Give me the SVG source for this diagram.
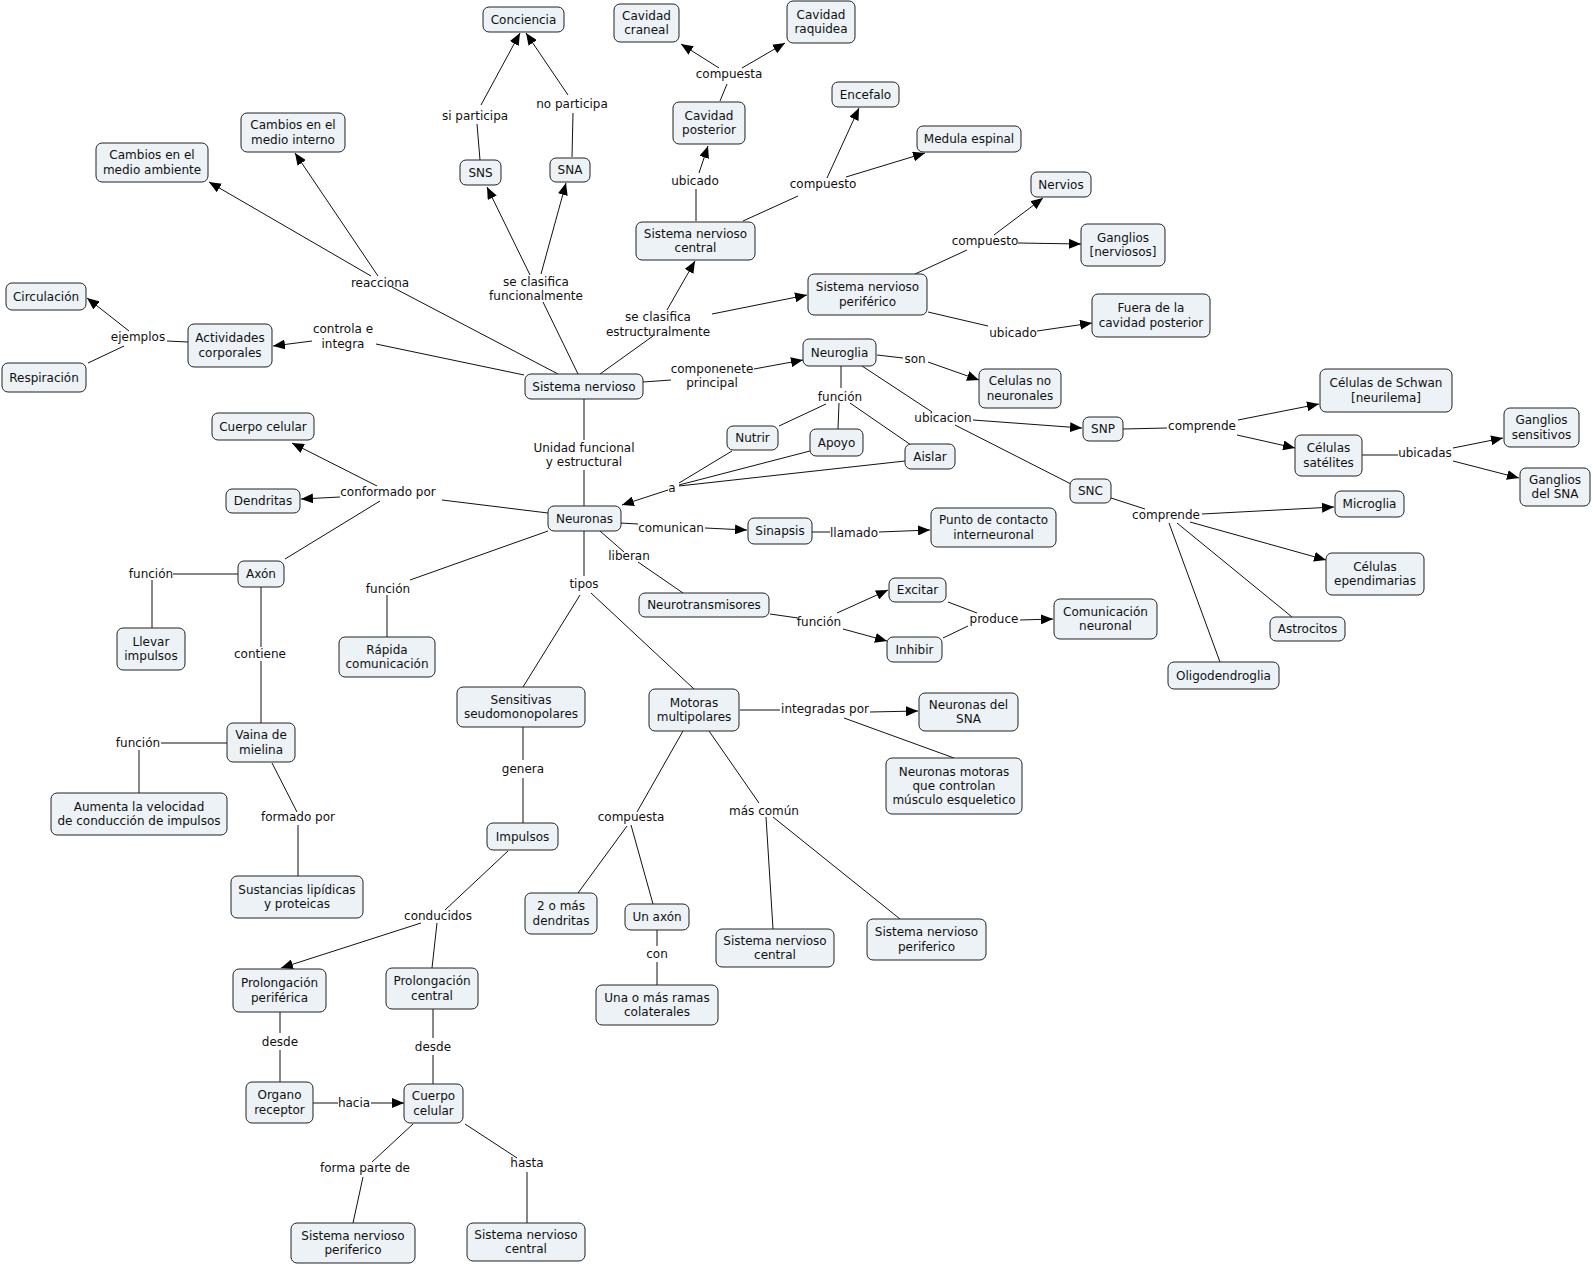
<svg xmlns="http://www.w3.org/2000/svg" width="1593" height="1266" viewBox="0 0 1593 1266">
<style>
text{font-family:"DejaVu Sans",Verdana,sans-serif;font-size:12px;fill:#111;text-anchor:middle}
.n rect{fill:#ecf2f5;stroke:#222;stroke-width:1}
.c line{stroke:#111;stroke-width:1;fill:none}
.c line.a{marker-end:url(#ah)}
</style>
<defs>
<marker id="ah" markerUnits="userSpaceOnUse" markerWidth="12" markerHeight="10" refX="12" refY="5" orient="auto"><path d="M0,0 L12,5 L0,10 z" fill="#000"/></marker>
</defs>
<rect width="1593" height="1266" fill="#fff"/>
<g id="connectors" class="c">
<line x1="480" y1="160" x2="477" y2="124"/>
<line class="a" x1="481" y1="105" x2="520" y2="33"/>
<line x1="572" y1="157" x2="573" y2="113"/>
<line class="a" x1="568" y1="95" x2="526" y2="33"/>
<line x1="720" y1="101" x2="727" y2="84"/>
<line class="a" x1="719" y1="68" x2="681" y2="44"/>
<line class="a" x1="742" y1="68" x2="785" y2="43"/>
<line x1="696" y1="221" x2="696" y2="189"/>
<line class="a" x1="699" y1="173" x2="708" y2="146"/>
<line x1="743" y1="221" x2="798" y2="196"/>
<line class="a" x1="827" y1="178" x2="859" y2="108"/>
<line class="a" x1="846" y1="177" x2="925" y2="153"/>
<line x1="915" y1="274" x2="967" y2="250"/>
<line class="a" x1="994" y1="235" x2="1043" y2="198"/>
<line class="a" x1="1018" y1="243" x2="1081" y2="244"/>
<line x1="928" y1="312" x2="988" y2="326"/>
<line class="a" x1="1037" y1="331" x2="1092" y2="323"/>
<line x1="578" y1="374" x2="543" y2="302"/>
<line class="a" x1="530" y1="275" x2="487" y2="187"/>
<line class="a" x1="541" y1="274" x2="566" y2="183"/>
<line x1="600" y1="374" x2="653" y2="336"/>
<line class="a" x1="667" y1="310" x2="695" y2="261"/>
<line class="a" x1="712" y1="314" x2="807" y2="295"/>
<line x1="643" y1="382" x2="671" y2="380"/>
<line class="a" x1="754" y1="369" x2="803" y2="360"/>
<line x1="558" y1="374" x2="392" y2="287"/>
<line class="a" x1="371" y1="276" x2="209" y2="182"/>
<line class="a" x1="378" y1="276" x2="295" y2="153"/>
<line x1="524" y1="375" x2="376" y2="344"/>
<line class="a" x1="312" y1="341" x2="273" y2="346"/>
<line x1="188" y1="342" x2="167" y2="341"/>
<line class="a" x1="129" y1="331" x2="87" y2="298"/>
<line x1="124" y1="346" x2="88" y2="363"/>
<line x1="584" y1="399" x2="584" y2="440"/>
<line x1="584" y1="470" x2="584" y2="506"/>
<line x1="877" y1="355" x2="903" y2="358"/>
<line class="a" x1="928" y1="362" x2="979" y2="380"/>
<line x1="841" y1="366" x2="841" y2="388"/>
<line x1="826" y1="404" x2="779" y2="426"/>
<line x1="839" y1="403" x2="838" y2="429"/>
<line x1="850" y1="403" x2="911" y2="445"/>
<line x1="862" y1="366" x2="932" y2="412"/>
<line class="a" x1="973" y1="420" x2="1082" y2="428"/>
<line x1="955" y1="425" x2="1071" y2="484"/>
<line x1="732" y1="451" x2="679" y2="483"/>
<line x1="810" y1="451" x2="679" y2="485"/>
<line x1="905" y1="461" x2="679" y2="486"/>
<line class="a" x1="668" y1="490" x2="622" y2="505"/>
<line x1="1123" y1="429" x2="1167" y2="428"/>
<line class="a" x1="1238" y1="420" x2="1319" y2="404"/>
<line class="a" x1="1237" y1="435" x2="1295" y2="448"/>
<line x1="1362" y1="455" x2="1398" y2="455"/>
<line class="a" x1="1453" y1="448" x2="1503" y2="438"/>
<line class="a" x1="1453" y1="461" x2="1519" y2="478"/>
<line x1="1111" y1="498" x2="1145" y2="509"/>
<line class="a" x1="1202" y1="514" x2="1334" y2="507"/>
<line class="a" x1="1190" y1="522" x2="1326" y2="560"/>
<line x1="1177" y1="523" x2="1292" y2="617"/>
<line x1="1169" y1="523" x2="1220" y2="662"/>
<line x1="620" y1="523" x2="638" y2="524"/>
<line class="a" x1="705" y1="528" x2="747" y2="530"/>
<line x1="812" y1="532" x2="830" y2="532"/>
<line class="a" x1="879" y1="532" x2="930" y2="530"/>
<line x1="600" y1="531" x2="624" y2="552"/>
<line x1="638" y1="562" x2="683" y2="593"/>
<line x1="442" y1="500" x2="548" y2="513"/>
<line class="a" x1="377" y1="486" x2="292" y2="443"/>
<line class="a" x1="340" y1="497" x2="301" y2="499"/>
<line x1="380" y1="501" x2="285" y2="559"/>
<line x1="238" y1="574" x2="173" y2="574"/>
<line x1="152" y1="580" x2="152" y2="628"/>
<line x1="261" y1="587" x2="261" y2="647"/>
<line x1="261" y1="661" x2="261" y2="723"/>
<line x1="227" y1="743" x2="161" y2="743"/>
<line x1="139" y1="750" x2="139" y2="793"/>
<line x1="272" y1="763" x2="297" y2="812"/>
<line x1="298" y1="825" x2="298" y2="876"/>
<line x1="548" y1="531" x2="410" y2="580"/>
<line x1="387" y1="595" x2="387" y2="637"/>
<line x1="584" y1="531" x2="584" y2="576"/>
<line x1="580" y1="595" x2="523" y2="687"/>
<line x1="591" y1="593" x2="694" y2="689"/>
<line x1="770" y1="614" x2="798" y2="618"/>
<line class="a" x1="837" y1="613" x2="888" y2="590"/>
<line class="a" x1="843" y1="629" x2="887" y2="641"/>
<line x1="948" y1="602" x2="977" y2="613"/>
<line x1="943" y1="638" x2="968" y2="626"/>
<line class="a" x1="1020" y1="620" x2="1053" y2="619"/>
<line x1="740" y1="710" x2="780" y2="710"/>
<line class="a" x1="870" y1="712" x2="918" y2="711"/>
<line x1="844" y1="718" x2="954" y2="758"/>
<line x1="523" y1="727" x2="523" y2="760"/>
<line x1="523" y1="778" x2="523" y2="823"/>
<line x1="683" y1="731" x2="637" y2="812"/>
<line x1="709" y1="731" x2="759" y2="803"/>
<line x1="627" y1="826" x2="578" y2="893"/>
<line x1="631" y1="825" x2="653" y2="904"/>
<line x1="657" y1="930" x2="657" y2="946"/>
<line x1="657" y1="962" x2="657" y2="985"/>
<line x1="766" y1="817" x2="773" y2="929"/>
<line x1="773" y1="817" x2="900" y2="919"/>
<line x1="508" y1="851" x2="445" y2="910"/>
<line class="a" x1="421" y1="923" x2="281" y2="968"/>
<line x1="437" y1="923" x2="432" y2="968"/>
<line x1="280" y1="1012" x2="280" y2="1033"/>
<line x1="280" y1="1050" x2="280" y2="1082"/>
<line x1="433" y1="1009" x2="433" y2="1038"/>
<line x1="433" y1="1055" x2="433" y2="1084"/>
<line x1="313" y1="1103" x2="338" y2="1103"/>
<line class="a" x1="371" y1="1103" x2="404" y2="1103"/>
<line x1="413" y1="1124" x2="372" y2="1162"/>
<line x1="363" y1="1177" x2="353" y2="1223"/>
<line x1="465" y1="1124" x2="517" y2="1158"/>
<line x1="527" y1="1172" x2="527" y2="1223"/>
</g>
<g id="labels">
<text x="475" y="120">si participa</text>
<text x="572" y="108">no participa</text>
<text x="729" y="78">compuesta</text>
<text x="695" y="185">ubicado</text>
<text x="823" y="188">compuesto</text>
<text x="380" y="287">reacciona</text>
<text x="536" y="286">se clasifica</text><text x="536" y="300">funcionalmente</text>
<text x="658" y="321">se clasifica</text><text x="658" y="336">estructuralmente</text>
<text x="985" y="245">compuesto</text>
<text x="1013" y="337">ubicado</text>
<text x="138" y="341">ejemplos</text>
<text x="343" y="333">controla e</text><text x="343" y="348">integra</text>
<text x="712" y="373">componenete</text><text x="712" y="387">principal</text>
<text x="915" y="363">son</text>
<text x="840" y="401">función</text>
<text x="943" y="422">ubicacion</text>
<text x="1202" y="430">comprende</text>
<text x="1425" y="457">ubicadas</text>
<text x="584" y="452">Unidad funcional</text><text x="584" y="466">y estructural</text>
<text x="672" y="492">a</text>
<text x="388" y="496">conformado por</text>
<text x="1166" y="519">comprende</text>
<text x="671" y="532">comunican</text>
<text x="854" y="537">llamado</text>
<text x="629" y="560">liberan</text>
<text x="151" y="578">función</text>
<text x="584" y="588">tipos</text>
<text x="388" y="593">función</text>
<text x="994" y="623">produce</text>
<text x="819" y="626">función</text>
<text x="260" y="658">contiene</text>
<text x="825" y="713">integradas por</text>
<text x="138" y="747">función</text>
<text x="523" y="773">genera</text>
<text x="764" y="815">más común</text>
<text x="298" y="821">formado por</text>
<text x="631" y="821">compuesta</text>
<text x="438" y="920">conducidos</text>
<text x="657" y="958">con</text>
<text x="280" y="1046">desde</text>
<text x="433" y="1051">desde</text>
<text x="354" y="1107">hacia</text>
<text x="365" y="1172">forma parte de</text>
<text x="527" y="1167">hasta</text>
</g>
<g id="n-conciencia" class="n"><rect x="483" y="7" width="81" height="25" rx="6"/><text x="523.5" y="23.5">Conciencia</text></g>
<g id="n-cav-craneal" class="n"><rect x="614" y="4" width="65" height="38" rx="6"/><text x="646.5" y="19.8">Cavidad</text><text x="646.5" y="34.2">craneal</text></g>
<g id="n-cav-raquidea" class="n"><rect x="787" y="1" width="68" height="42" rx="6"/><text x="821" y="18.8">Cavidad</text><text x="821" y="33.2">raquidea</text></g>
<g id="n-cav-posterior" class="n"><rect x="673" y="102" width="72" height="42" rx="6"/><text x="709" y="119.8">Cavidad</text><text x="709" y="134.2">posterior</text></g>
<g id="n-encefalo" class="n"><rect x="832" y="82" width="67" height="25" rx="6"/><text x="865.5" y="98.5">Encefalo</text></g>
<g id="n-medula" class="n"><rect x="917" y="126" width="104" height="26" rx="6"/><text x="969" y="143">Medula espinal</text></g>
<g id="n-cambios-interno" class="n"><rect x="241" y="113" width="104" height="39" rx="6"/><text x="293" y="129.3">Cambios en el</text><text x="293" y="143.7">medio interno</text></g>
<g id="n-cambios-ambiente" class="n"><rect x="96" y="143" width="112" height="39" rx="6"/><text x="152" y="159.3">Cambios en el</text><text x="152" y="173.7">medio ambiente</text></g>
<g id="n-sns" class="n"><rect x="460" y="160" width="41" height="25" rx="6"/><text x="480.5" y="176.5">SNS</text></g>
<g id="n-sna" class="n"><rect x="550" y="158" width="40" height="24" rx="6"/><text x="570" y="174">SNA</text></g>
<g id="n-nervios" class="n"><rect x="1031" y="172" width="60" height="25" rx="6"/><text x="1061" y="188.5">Nervios</text></g>
<g id="n-snc-top" class="n"><rect x="636" y="222" width="119" height="38" rx="6"/><text x="695.5" y="237.8">Sistema nervioso</text><text x="695.5" y="252.2">central</text></g>
<g id="n-ganglios-nerv" class="n"><rect x="1081" y="224" width="84" height="42" rx="6"/><text x="1123" y="241.8">Ganglios</text><text x="1123" y="256.2">[nerviosos]</text></g>
<g id="n-circulacion" class="n"><rect x="6" y="283" width="80" height="27" rx="6"/><text x="46" y="300.5">Circulación</text></g>
<g id="n-snp-top" class="n"><rect x="808" y="274" width="119" height="41" rx="6"/><text x="867.5" y="291.3">Sistema nervioso</text><text x="867.5" y="305.7">periférico</text></g>
<g id="n-fuera" class="n"><rect x="1092" y="294" width="118" height="43" rx="6"/><text x="1151" y="312.3">Fuera de la</text><text x="1151" y="326.7">cavidad posterior</text></g>
<g id="n-actividades" class="n"><rect x="188" y="324" width="84" height="43" rx="6"/><text x="230" y="342.3">Actividades</text><text x="230" y="356.7">corporales</text></g>
<g id="n-neuroglia" class="n"><rect x="803" y="339" width="73" height="27" rx="6"/><text x="839.5" y="356.5">Neuroglia</text></g>
<g id="n-respiracion" class="n"><rect x="2" y="363" width="84" height="29" rx="6"/><text x="44" y="381.5">Respiración</text></g>
<g id="n-sistema-nervioso" class="n"><rect x="525" y="374" width="118" height="25" rx="6"/><text x="584" y="390.5">Sistema nervioso</text></g>
<g id="n-celulas-no" class="n"><rect x="979" y="369" width="82" height="39" rx="6"/><text x="1020" y="385.3">Celulas no</text><text x="1020" y="399.7">neuronales</text></g>
<g id="n-schwan" class="n"><rect x="1320" y="369" width="132" height="43" rx="6"/><text x="1386" y="387.3">Células de Schwan</text><text x="1386" y="401.7">[neurilema]</text></g>
<g id="n-ganglios-sens" class="n"><rect x="1504" y="408" width="75" height="39" rx="6"/><text x="1541.5" y="424.3">Ganglios</text><text x="1541.5" y="438.7">sensitivos</text></g>
<g id="n-cuerpo-top" class="n"><rect x="212" y="413" width="102" height="27" rx="6"/><text x="263" y="430.5">Cuerpo celular</text></g>
<g id="n-snp" class="n"><rect x="1083" y="417" width="40" height="24" rx="6"/><text x="1103" y="433">SNP</text></g>
<g id="n-nutrir" class="n"><rect x="727" y="426" width="51" height="24" rx="6"/><text x="752.5" y="442">Nutrir</text></g>
<g id="n-apoyo" class="n"><rect x="810" y="429" width="53" height="27" rx="6"/><text x="836.5" y="446.5">Apoyo</text></g>
<g id="n-celulas-sat" class="n"><rect x="1295" y="435" width="67" height="41" rx="6"/><text x="1328.5" y="452.3">Células</text><text x="1328.5" y="466.7">satélites</text></g>
<g id="n-aislar" class="n"><rect x="905" y="444" width="50" height="25" rx="6"/><text x="930" y="460.5">Aislar</text></g>
<g id="n-ganglios-sna" class="n"><rect x="1520" y="468" width="70" height="38" rx="6"/><text x="1555" y="483.8">Ganglios</text><text x="1555" y="498.2">del SNA</text></g>
<g id="n-snc" class="n"><rect x="1070" y="479" width="41" height="24" rx="6"/><text x="1090.5" y="495">SNC</text></g>
<g id="n-dendritas" class="n"><rect x="226" y="489" width="74" height="24" rx="6"/><text x="263" y="505">Dendritas</text></g>
<g id="n-microglia" class="n"><rect x="1335" y="491" width="69" height="26" rx="6"/><text x="1369.5" y="508">Microglia</text></g>
<g id="n-neuronas" class="n"><rect x="548" y="506" width="73" height="25" rx="6"/><text x="584.5" y="522.5">Neuronas</text></g>
<g id="n-punto" class="n"><rect x="931" y="508" width="125" height="39" rx="6"/><text x="993.5" y="524.3">Punto de contacto</text><text x="993.5" y="538.7">interneuronal</text></g>
<g id="n-sinapsis" class="n"><rect x="748" y="518" width="64" height="26" rx="6"/><text x="780" y="535">Sinapsis</text></g>
<g id="n-ependimarias" class="n"><rect x="1326" y="553" width="98" height="42" rx="6"/><text x="1375" y="570.8">Células</text><text x="1375" y="585.2">ependimarias</text></g>
<g id="n-axon" class="n"><rect x="238" y="561" width="46" height="26" rx="6"/><text x="261" y="578">Axón</text></g>
<g id="n-excitar" class="n"><rect x="889" y="578" width="57" height="24" rx="6"/><text x="917.5" y="594">Excitar</text></g>
<g id="n-neurotrans" class="n"><rect x="639" y="593" width="130" height="24" rx="6"/><text x="704" y="609">Neurotransmisores</text></g>
<g id="n-comunicacion" class="n"><rect x="1054" y="599" width="103" height="40" rx="6"/><text x="1105.5" y="615.8">Comunicación</text><text x="1105.5" y="630.2">neuronal</text></g>
<g id="n-astrocitos" class="n"><rect x="1270" y="617" width="75" height="24" rx="6"/><text x="1307.5" y="633">Astrocitos</text></g>
<g id="n-llevar" class="n"><rect x="117" y="628" width="68" height="42" rx="6"/><text x="151" y="645.8">Llevar</text><text x="151" y="660.2">impulsos</text></g>
<g id="n-rapida" class="n"><rect x="339" y="637" width="96" height="40" rx="6"/><text x="387" y="653.8">Rápida</text><text x="387" y="668.2">comunicación</text></g>
<g id="n-inhibir" class="n"><rect x="887" y="637" width="55" height="25" rx="6"/><text x="914.5" y="653.5">Inhibir</text></g>
<g id="n-oligo" class="n"><rect x="1168" y="662" width="111" height="27" rx="6"/><text x="1223.5" y="679.5">Oligodendroglia</text></g>
<g id="n-sensitivas" class="n"><rect x="457" y="687" width="128" height="40" rx="6"/><text x="521" y="703.8">Sensitivas</text><text x="521" y="718.2">seudomonopolares</text></g>
<g id="n-motoras" class="n"><rect x="649" y="689" width="90" height="42" rx="6"/><text x="694" y="706.8">Motoras</text><text x="694" y="721.2">multipolares</text></g>
<g id="n-neuronas-sna" class="n"><rect x="919" y="693" width="99" height="38" rx="6"/><text x="968.5" y="708.8">Neuronas del</text><text x="968.5" y="723.2">SNA</text></g>
<g id="n-vaina" class="n"><rect x="227" y="723" width="68" height="39" rx="6"/><text x="261" y="739.3">Vaina de</text><text x="261" y="753.7">mielina</text></g>
<g id="n-neuronas-motoras" class="n"><rect x="886" y="758" width="136" height="56" rx="6"/><text x="954" y="775.7">Neuronas motoras</text><text x="954" y="790">que controlan</text><text x="954" y="804.3">músculo esqueletico</text></g>
<g id="n-aumenta" class="n"><rect x="51" y="793" width="176" height="42" rx="6"/><text x="139" y="810.8">Aumenta la velocidad</text><text x="139" y="825.2">de conducción de impulsos</text></g>
<g id="n-impulsos" class="n"><rect x="487" y="823" width="71" height="27" rx="6"/><text x="522.5" y="840.5">Impulsos</text></g>
<g id="n-sustancias" class="n"><rect x="231" y="876" width="132" height="42" rx="6"/><text x="297" y="893.8">Sustancias lipídicas</text><text x="297" y="908.2">y proteicas</text></g>
<g id="n-dos-dendritas" class="n"><rect x="525" y="893" width="72" height="41" rx="6"/><text x="561" y="910.3">2 o más</text><text x="561" y="924.7">dendritas</text></g>
<g id="n-un-axon" class="n"><rect x="625" y="904" width="64" height="26" rx="6"/><text x="657" y="921">Un axón</text></g>
<g id="n-snc-mid" class="n"><rect x="716" y="929" width="118" height="38" rx="6"/><text x="775" y="944.8">Sistema nervioso</text><text x="775" y="959.2">central</text></g>
<g id="n-snp-right" class="n"><rect x="867" y="919" width="119" height="41" rx="6"/><text x="926.5" y="936.3">Sistema nervioso</text><text x="926.5" y="950.7">periferico</text></g>
<g id="n-prol-perif" class="n"><rect x="233" y="969" width="93" height="43" rx="6"/><text x="279.5" y="987.3">Prolongación</text><text x="279.5" y="1001.7">periférica</text></g>
<g id="n-prol-central" class="n"><rect x="386" y="968" width="92" height="41" rx="6"/><text x="432" y="985.3">Prolongación</text><text x="432" y="999.7">central</text></g>
<g id="n-una-mas" class="n"><rect x="596" y="985" width="122" height="40" rx="6"/><text x="657" y="1001.8">Una o más ramas</text><text x="657" y="1016.2">colaterales</text></g>
<g id="n-organo" class="n"><rect x="246" y="1082" width="67" height="41" rx="6"/><text x="279.5" y="1099.3">Organo</text><text x="279.5" y="1113.7">receptor</text></g>
<g id="n-cuerpo-bottom" class="n"><rect x="404" y="1084" width="59" height="39" rx="6"/><text x="433.5" y="1100.3">Cuerpo</text><text x="433.5" y="1114.7">celular</text></g>
<g id="n-snp-bottom" class="n"><rect x="291" y="1223" width="124" height="40" rx="6"/><text x="353" y="1239.8">Sistema nervioso</text><text x="353" y="1254.2">periferico</text></g>
<g id="n-snc-bottom" class="n"><rect x="467" y="1223" width="118" height="38" rx="6"/><text x="526" y="1238.8">Sistema nervioso</text><text x="526" y="1253.2">central</text></g>
</svg>
